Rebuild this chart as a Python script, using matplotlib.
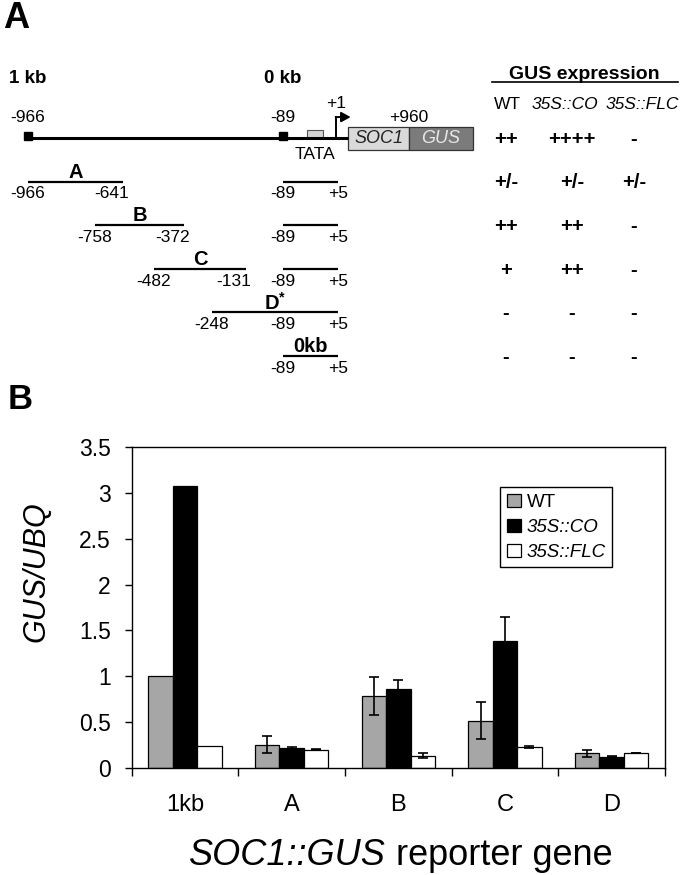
import matplotlib
matplotlib.use("Agg")
import matplotlib.pyplot as plt
import numpy as np
from matplotlib import transforms
from matplotlib.patches import Rectangle

# ---- panel B data: GUS/UBQ per reporter construct ----
constructs = ["1kb", "A", "B", "C", "D"]
series_names = ["WT", "35S::CO", "35S::FLC"]
wt_vals = [1.00, 0.255, 0.785, 0.515, 0.16]
wt_err = [0.0, 0.095, 0.21, 0.20, 0.035]
co_vals = [3.08, 0.215, 0.865, 1.39, 0.125]
co_err = [0.0, 0.01, 0.09, 0.26, 0.005]
flc_vals = [0.24, 0.20, 0.135, 0.23, 0.165]
flc_err = [0.0, 0.008, 0.03, 0.012, 0.003]

# ---- panel A data: promoter fragments (bp relative to TSS) ----
frag_labels = ["A", "B", "C", r"$\mathbf{D^{*}}$", "0kb"]
frag_start = [-966, -758, -482, -248, None]
frag_end = [-641, -372, -131, -89, None]
core = (-89, 5)
promoter_start = -966
tata = (-48, -21)
tss = 1
soc1_span = (140, 960)
gus_span = (960, 1410)

# GUS expression table (row 0 = full 1 kb construct)
expr_wt = ["++", "+/-", "++", "+", "-", "-"]
expr_co = ["++++", "+/-", "++", "++", "-", "-"]
expr_flc = ["-", "+/-", "-", "-", "-", "-"]

# schematic is not drawn to scale: bp -> pixel anchors
MAP_BP = [-1063, -966, -758, -641, -482, -372, -248, -131, -89, 5, 960, 2903]
MAP_PX = [0, 28, 95, 123, 154, 184, 212, 246, 283, 338, 409, 685]


def fwd(v):
    return np.interp(v, MAP_BP, MAP_PX)


def inv(v):
    return np.interp(v, MAP_PX, MAP_BP)


def mid_bp(a, b):
    return float(inv((fwd(a) + fwd(b)) / 2.0))


plt.rcParams["font.family"] = ["Liberation Sans", "DejaVu Sans"]
plt.rcParams["mathtext.fontset"] = "custom"
plt.rcParams["mathtext.rm"] = "Liberation Sans"
plt.rcParams["mathtext.bf"] = "Liberation Sans:bold"
plt.rcParams["mathtext.it"] = "Liberation Sans:italic"

W, H = 685, 875
fig = plt.figure(figsize=(W / 100, H / 100), dpi=100)

# ================= panel A =================
ROW0, ROWSTEP = 138.0, 43.6
ax_a = fig.add_axes([0, 1 - 400 / H, 1, 400 / H])
ax_a.set_xscale("function", functions=(fwd, inv))
ax_a.set_xlim(inv(0), inv(W))
ax_a.set_ylim((400 - ROW0) / ROWSTEP, (0 - ROW0) / ROWSTEP)
ax_a.axis("off")

fs = 12.5
# full-length construct
ax_a.plot([promoter_start, soc1_span[0]], [0, 0], color="black", lw=2.2, solid_capstyle="butt")
ax_a.plot([promoter_start, core[0]], [-0.05, -0.05], "s", ms=5.5, color="black")
ax_a.add_patch(Rectangle((tata[0], -0.19), tata[1] - tata[0], 0.19,
                         facecolor="#d4d4d4", edgecolor="#555555", lw=0.8))
ax_a.text(mid_bp(*tata), 0.37, "TATA", fontsize=fs, ha="center", va="center")
ax_a.plot([tss, tss], [0, -0.48], color="black", lw=1.4)
head = transforms.offset_copy(ax_a.transData, fig=fig, x=15, y=0, units="dots")
ax_a.annotate("", xy=(tss, -0.48), xycoords=head, xytext=(tss, -0.48), textcoords="data",
              arrowprops=dict(arrowstyle="-|>,head_length=0.55,head_width=0.3",
                              color="black", lw=1.4, shrinkA=0, shrinkB=0))
ax_a.text(tss, -0.8, "+1", fontsize=fs, ha="center", va="center")
ax_a.add_patch(Rectangle((soc1_span[0], -0.25), soc1_span[1] - soc1_span[0], 0.525,
                         facecolor="#d9d9d9", edgecolor="#333333", lw=0.9))
ax_a.add_patch(Rectangle((gus_span[0], -0.25), gus_span[1] - gus_span[0], 0.525,
                         facecolor="#7b7b7b", edgecolor="#333333", lw=0.9))
ax_a.text(mid_bp(*soc1_span), 0.01, "SOC1", fontsize=13, style="italic",
          ha="center", va="center", color="#222222")
ax_a.text(mid_bp(*gus_span), 0.01, "GUS", fontsize=13, style="italic",
          ha="center", va="center", color="#e8e8e8")
ax_a.text(soc1_span[1], -0.46, "+960", fontsize=fs, ha="center", va="center")
ax_a.text(promoter_start, -0.46, "-966", fontsize=fs, ha="center", va="center")
ax_a.text(core[0], -0.46, "-89", fontsize=fs, ha="center", va="center")
ax_a.text(promoter_start, -1.376, "1 kb", fontsize=13.5, weight="bold", ha="center", va="center")
ax_a.text(core[0], -1.376, "0 kb", fontsize=13.5, weight="bold", ha="center", va="center")

# deletion fragments
below = 0.28
for i, (lab, s, e) in enumerate(zip(frag_labels, frag_start, frag_end)):
    r = i + 1
    ax_a.plot(core, [r, r], color="black", lw=1.6, solid_capstyle="butt")
    ax_a.text(core[0], r + below, "-89", fontsize=fs, ha="center", va="center")
    ax_a.text(core[1], r + below, "+5", fontsize=fs, ha="center", va="center")
    if s is None:
        centre = mid_bp(*core)
    else:
        ax_a.plot([s, e], [r, r], color="black", lw=1.6, solid_capstyle="butt")
        ax_a.text(s, r + below, str(s), fontsize=fs, ha="center", va="center")
        if e == core[0]:
            centre = mid_bp(s, core[1])
        else:
            centre = mid_bp(s, e)
            ax_a.annotate(str(e), xy=(e, r + below), xytext=(4, 0), textcoords="offset points",
                          fontsize=fs, ha="right", va="center")
    ax_a.text(centre, r - 0.22, lab, fontsize=14.5, weight="bold", ha="center", va="center")

# expression table
xt = transforms.blended_transform_factory(fig.transFigure, ax_a.transData)
ax_a.text(584 / W, -1.445, "GUS expression", transform=xt, fontsize=14, weight="bold",
          ha="center", va="center")
ax_a.plot([492 / W, 678 / W], [-1.284, -1.284], transform=xt, color="black", lw=1.2)
for name, xpx, sty in zip(series_names, [507, 565, 642], ["normal", "italic", "italic"]):
    ax_a.text(xpx / W, -0.757, name, transform=xt, fontsize=fs, style=sty, ha="center", va="center")
for col, xpx in zip([expr_wt, expr_co, expr_flc], [506, 572, 634]):
    for r, sym in enumerate(col):
        ax_a.text(xpx / W, r + 0.03, sym, transform=xt, fontsize=14.5, weight="bold",
                  ha="center", va="center")

fig.text(3 / W, 1 - 18 / H, "A", fontsize=26, weight="bold", ha="left", va="center")
fig.text(8 / W, 1 - 400 / H, "B", fontsize=25, weight="bold", ha="left", va="center")

# ================= panel B =================
ax_b = fig.add_axes([131.7 / W, 1 - 768 / H, 533.3 / W, 321 / H])
x = np.arange(len(constructs))
bw = 0.229
colors = ["#a6a6a6", "#000000", "#ffffff"]
for k, (vals, errs, c, name) in enumerate(zip([wt_vals, co_vals, flc_vals],
                                              [wt_err, co_err, flc_err],
                                              colors, series_names)):
    vals = np.array(vals)
    errs = np.array(errs)
    xs = x + (k - 1) * bw
    ax_b.bar(xs, vals, bw, color=c, edgecolor="black", linewidth=0.9, label=name, zorder=2)
    m = errs > 0
    ax_b.errorbar(xs[m], vals[m], yerr=errs[m], fmt="none", ecolor="black",
                  elinewidth=1.2, capsize=3.5, capthick=1.2, zorder=3)

ax_b.set_ylim(0, 3.5)
ax_b.set_xlim(-0.5, len(constructs) - 0.5)
yt = np.arange(0, 3.51, 0.5)
ax_b.set_yticks(yt)
ax_b.set_yticklabels([f"{v:g}" for v in yt])
ax_b.set_xticks(np.arange(-0.5, len(constructs)))
ax_b.set_xticklabels([])
ax_b.set_xticks(x, minor=True)
ax_b.set_xticklabels(constructs, minor=True)
ax_b.tick_params(axis="y", direction="out", length=5, width=1, labelsize=16.5, pad=10)
ax_b.tick_params(axis="x", which="major", direction="out", length=6, width=1)
ax_b.tick_params(axis="x", which="minor", length=0, labelsize=17, pad=19)
for sp in ax_b.spines.values():
    sp.set_linewidth(1.0)

ax_b.set_ylabel("GUS/UBQ", fontsize=22, style="italic")
ax_b.yaxis.set_label_coords(-0.15, 0.612)

t1 = fig.text(386 / W, 1 - 838 / H, "SOC1::GUS", fontsize=26, style="italic", ha="right", va="top")
fig.canvas.draw()
ax_b.annotate(" reporter gene", xy=(1, 0), xycoords=t1, fontsize=26, ha="left", va="bottom",
              annotation_clip=False)

leg = ax_b.legend(loc="upper left", bbox_to_anchor=(0.691, 0.875), fontsize=13.5,
                  frameon=True, fancybox=False, framealpha=1, edgecolor="black",
                  handlelength=0.75, handleheight=0.75, handletextpad=0.3,
                  borderpad=0.35, labelspacing=0.4, borderaxespad=0)
leg.get_frame().set_linewidth(1.0)
for t in leg.get_texts()[1:]:
    t.set_style("italic")

fig.savefig("out.png", dpi=100)
